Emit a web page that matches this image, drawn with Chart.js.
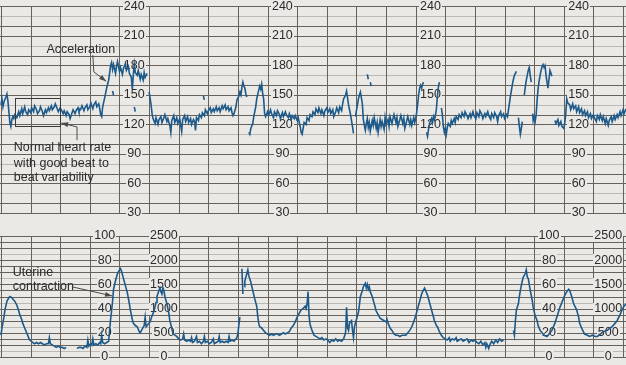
<!DOCTYPE html>
<html>
<head>
<meta charset="utf-8">
<title>Fetal heart rate and uterine contraction trace</title>
<script src="https://cdn.jsdelivr.net/npm/chart.js@4.4.0/dist/chart.umd.min.js"></script>
<style>
html, body { margin: 0; padding: 0; background: #ebe9e6; }
#wrap { width: 626px; height: 365px; }
</style>
</head>
<body>
<div id="wrap"><canvas id="ctg" width="626" height="365"></canvas></div>
<script>
// tick labels
var fhrTicks = [240, 210, 180, 150, 120, 90, 60, 30];      // bpm
var ucTicks = [100, 80, 60, 40, 20, 0];                     // mmHg
var ucTicksAlt = [2500, 2000, 1500, 1000, 500, 0];          // kPa scale printed beside it

// fetal heart rate, [seconds, bpm], null = signal lost
var fhrTrace = [
  [0,140],[1,146],[2,138],[3,143],[5,148],[6,151],[7,144],[8,133],[9,122],[10,118],[11,125],[12,128],[13,126],[14,130],
  [16,127],[18,133],[19,129],[21,136],[22,131],[24,138],[25,133],[27,130],[28,135],[30,132],[31,137],[33,133],[34,139],
  [36,135],[37,131],[39,134],[40,138],[42,133],[43,129],[45,135],[46,132],[48,137],[49,134],[51,139],[52,135],[54,138],
  [55,141],[57,136],[58,133],[60,137],[61,135],[63,131],[64,134],[66,129],[67,133],[69,130],[70,126],[72,132],[73,135],
  [75,131],[76,134],[78,137],[79,133],[81,136],[82,139],[84,134],[85,137],[87,140],[88,135],[90,138],[91,142],[93,136],
  [94,140],[96,143],[97,138],[99,141],[100,136],[101,130],[102,128],[103,138],[105,147],[107,157],[109,165],[110,172],
  [111,180],[112,183],[113,176],[114,181],[116,172],[117,179],[118,184],[120,174],[121,178],[123,171],[124,177],[126,182],
  [127,175],[129,179],[130,172],[132,168],[133,156],[134,170],[135,181],[136,173],[138,170],[139,175],[141,166],[142,171],
  [144,165],[145,173],[146,168],[148,172],[149,null],
  [150,153],[151,147],[152,140],[153,131],[154,126],[156,121],[157,127],[159,120],[160,125],[162,128],[163,122],[165,127],
  [166,130],[168,123],[169,126],[171,119],[172,112],[173,124],[175,129],[176,122],[178,127],[179,121],[181,126],[182,119],
  [183,113],[184,125],[186,129],[187,123],[189,128],[190,122],[192,126],[193,120],[195,125],[196,123],[197,114],[198,127],
  [200,124],[201,130],[203,127],[204,132],[206,129],[207,135],[209,131],[210,134],[212,137],[213,132],[215,136],[216,133],
  [218,138],[219,134],[221,137],[222,133],[224,139],[225,136],[227,140],[228,135],[230,138],[231,134],[233,137],[234,132],
  [235,129],[236,131],[238,138],[239,145],[241,149],[242,153],[243,150],[244,158],[245,163],[246,159],[247,157],[248,151],
  [249,148],[250,null],
  [251,112],[252,110],[253,116],[255,121],[256,128],[258,138],[259,146],[261,155],[262,159],[263,156],[264,161],[265,152],
  [266,146],[267,131],[268,128],[270,133],[271,129],[273,135],[274,131],[276,127],[277,133],[279,129],[280,134],[282,130],
  [283,126],[285,132],[286,128],[288,133],[289,130],[291,127],[292,131],[294,125],[295,129],[297,126],[298,129],[300,124],
  [301,127],[303,118],[304,112],[305,110],[306,116],[307,122],[309,120],[310,127],[312,124],[313,130],[315,128],[316,133],
  [318,130],[319,136],[321,132],[322,137],[324,131],[325,135],[327,129],[328,134],[330,137],[331,132],[333,136],[334,131],
  [336,135],[337,128],[339,133],[340,137],[342,132],[343,138],[345,134],[346,141],[347,146],[349,150],[350,154],[351,147],
  [352,140],[353,135],[354,130],[355,124],[356,118],[357,111],[358,null],
  [359,128],[360,134],[361,140],[362,146],[363,150],[364,153],[365,147],[366,141],[367,125],[368,119],[369,114],[370,121],
  [371,126],[372,117],[373,122],[374,113],[376,124],[377,119],[378,127],[380,116],[381,122],[382,112],[384,125],[385,118],
  [386,123],[388,115],[389,127],[390,120],[392,125],[393,118],[394,128],[396,121],[397,126],[398,130],[400,122],[401,127],
  [402,118],[404,125],[405,129],[407,121],[408,126],[409,116],[411,124],[412,128],[414,120],[415,125],[416,119],[418,127],
  [419,122],[420,126],[421,132],[422,141],[423,150],[424,157],[425,160],[426,157],[427,161],[428,163],[429,null],
  [431,112],[432,108],[433,115],[434,121],[436,126],[437,122],[438,128],[439,125],[440,129],[441,136],[442,149],[443,158],
  [444,163],[445,null],
  [446,137],[447,130],[448,118],[449,112],[450,116],[451,110],[452,117],[453,121],[455,118],[456,124],[457,121],[459,126],
  [460,122],[461,128],[463,125],[464,130],[466,127],[467,132],[469,128],[470,133],[472,129],[473,126],[475,131],[476,127],
  [478,133],[479,129],[481,126],[482,132],[484,128],[485,134],[487,130],[488,126],[490,131],[491,128],[493,133],[494,129],
  [496,125],[497,131],[499,127],[500,132],[502,128],[503,123],[504,129],[506,133],[507,128],[509,131],[510,126],[512,130],
  [513,128],[514,135],[515,142],[516,149],[517,155],[518,161],[519,166],[520,170],[521,172],[522,174],[523,null],
  [524,127],[525,118],[526,110],[527,116],[528,123],[529,null],
  [530,150],[531,158],[532,165],[533,170],[534,175],[535,178],[536,170],[537,163],[538,null],
  [538.5,131],[539,124],[540,128],[541,123],[542,130],[543,145],[544,157],[545,164],[546,170],[547,175],[548,179],[549,181],
  [550,178],[551,180],[552,170],[553,163],[554,157],[555,166],[556,175],[557,172],[558,169],[559,null],
  [561,124],[562,121],[564,125],[565,119],[567,123],[568,118],[570,116],[571,122],[572,131],[573,146],[574,142],[576,140],
  [577,135],[579,141],[580,136],[582,139],[583,133],[585,138],[586,132],[588,136],[589,130],[591,134],[592,129],[594,133],
  [595,127],[597,131],[598,126],[600,130],[601,127],[603,123],[604,129],[606,125],[607,130],[609,124],[610,128],[612,121],
  [613,126],[615,119],[616,124],[618,128],[619,123],[621,129],[622,125],[624,130],[625,127],[627,133],[628,129],[630,135],
  [631,131],[633,136]
];

// isolated short fragments of the heart rate signal
var fhrFragments = [
  [113,154],[114,150],[115,null],[135,138],[136,133],[137,null],[205,149],[206,145],[207,null],
  [371,171],[372,166],[373,null],[374,163],[375,159],[376,null]
];

// uterine pressure, [seconds, mmHg]
var ucTrace = [
  [0,18],[1,24],[3,33],[4,39],[6,46],[8,49],[9,50],[11,49],[12,48],[14,46],[16,43],[18,38],[19,35],[21,31],[22,28],
  [24,24],[26,20],[28,16],[29,14],[31,13],[32,12],[34,11],[36,12],[38,11],[40,12],[42,11],[44,10],[46,11],[48,11],
  [49,16],[50,11],[52,10],[54,9],[56,8],[58,9],[60,8],[62,8],[64,7],[66,8],[67,null],
  [77,7],[79,8],[81,8],[83,7],[85,9],[87,8],[88,14],[89,9],[91,11],[92,10],[93,15],[94,10],[96,11],[98,10],[100,12],
  [101,11],[102,18],[103,12],[105,11],[107,12],[109,13],[110,22],[111,31],[112,38],[113,46],[114,56],[116,63],[118,69],
  [120,72],[121,73],[122,71],[124,65],[126,59],[128,53],[130,44],[131,39],[133,31],[134,28],[136,26],[138,25],[140,21],
  [141,20],[143,23],[145,26],[146,33],[147,25],[149,27],[151,29],[153,34],[155,38],[157,45],[158,50],[160,55],[161,57],
  [162,54],[163,52],[164,57],[165,55],[166,50],[168,44],[170,36],[171,30],[173,24],[174,20],[176,18],[178,17],[180,15],
  [182,14],[184,15],[185,19],[186,14],[188,13],[190,14],[192,13],[193,16],[194,12],[196,13],[198,17],[199,12],[201,13],
  [203,11],[205,13],[206,17],[207,12],[209,13],[211,11],[213,12],[215,15],[216,11],[218,12],[220,13],[221,17],[222,12],
  [224,13],[226,12],[228,13],[230,12],[231,17],[232,13],[234,14],[236,13],[238,15],[239,16],[240,20],[241,27],[242,33],
  [243,null],[244,73],[245,52],[246,null],
  [246.5,58],[247,63],[249,69],[250,72],[251,67],[253,62],[255,55],[257,48],[259,42],[260,34],[261,28],[262,25],[264,24],
  [266,22],[268,20],[270,19],[272,18],[274,19],[276,18],[278,19],[280,19],[282,18],[284,19],[286,20],[288,19],[290,20],
  [292,21],[294,24],[296,26],[298,29],[300,33],[302,36],[304,39],[306,40],[308,42],[309,40],[310,44],[311,54],[312,34],
  [313,27],[315,22],[317,18],[319,17],[321,16],[323,15],[325,16],[327,14],[329,15],[331,14],[333,12],[335,14],[337,13],
  [339,15],[341,13],[343,14],[345,13],[347,15],[349,20],[350,41],[351,24],[352,22],[353,28],[355,30],[356,22],[357,16],
  [358,25],[360,31],[362,37],[363,43],[364,50],[366,55],[367,58],[369,61],[370,57],[371,60],[372,56],[373,58],[374,54],
  [376,50],[378,44],[380,38],[382,35],[384,32],[386,31],[388,30],[390,29],[391,31],[392,28],[394,24],[396,22],[398,19],
  [400,18],[402,18],[404,17],[406,18],[408,18],[410,18],[412,20],[414,22],[416,25],[418,29],[420,34],[422,40],[424,46],
  [426,52],[427,54],[429,57],[430,55],[432,51],[434,45],[436,39],[438,33],[439,30],[441,26],[442,25],[444,21],[446,18],
  [448,16],[450,15],[452,14],[454,16],[455,13],[457,15],[459,14],[461,16],[462,13],[464,14],[466,15],[468,13],[470,14],
  [472,15],[474,12],[476,14],[478,13],[480,14],[482,12],[484,11],[486,13],[488,10],[490,12],[491,8],[492,11],[494,7],
  [495,10],[497,13],[499,11],[501,14],[503,12],[505,15],[507,13],[509,14],[510,null],
  [519,22],[520,18],[521,30],[522,39],[524,44],[525,50],[526,55],[528,63],[529,66],[531,69],[532,72],[533,66],[534,65],
  [536,55],[538,47],[539,41],[541,34],[543,30],[544,26],[546,22],[548,20],[550,18],[553,17],[555,19],[558,22],[561,28],
  [563,33],[566,41],[569,47],[571,51],[573,54],[575,56],[576,55],[578,50],[580,44],[583,39],[585,33],[586,28],[588,24],
  [591,19],[594,18],[596,17],[599,18],[602,17],[604,17],[607,19],[610,21],[614,22],[617,24],[619,25],[622,28],[624,30],
  [627,35],[629,39],[631,42],[633,44]
];

var PAPER = '#ebe9e6';
var GRID_DARK = '#67615c';
var GRID_LIGHT = '#bdb9b5';
var INK = '#2b2b2b';
var TRACE = '#1d5a8a';
var FONT = '12.5px "Liberation Sans", Arial, sans-serif';

// label columns sit between two 30 s lines (seconds)
var fhrLabelCols = [135, 285, 435, 585];
var ucLabelCols = [105, 555];
var ucAltLabelCols = [165, 615];

function toPoints(list) {
  return list.map(function (p) { return { x: p[0], y: p[1] }; });
}

function label(ctx, text, x, y) {
  var w = ctx.measureText(text).width;
  ctx.fillStyle = PAPER;
  ctx.fillRect(Math.round(x - w / 2 - 1), Math.round(y - 6), Math.ceil(w + 2), 12);
  ctx.fillStyle = INK;
  ctx.fillText(text, x, y);
}

function arrow(ctx, pts) {
  ctx.beginPath();
  ctx.moveTo(pts[0][0], pts[0][1]);
  for (var i = 1; i < pts.length; i++) ctx.lineTo(pts[i][0], pts[i][1]);
  ctx.stroke();
  var a = pts[pts.length - 2], b = pts[pts.length - 1];
  var ang = Math.atan2(b[1] - a[1], b[0] - a[0]);
  ctx.beginPath();
  ctx.moveTo(b[0], b[1]);
  ctx.lineTo(b[0] - 7 * Math.cos(ang) + 2.5 * Math.sin(ang), b[1] - 7 * Math.sin(ang) - 2.5 * Math.cos(ang));
  ctx.lineTo(b[0] - 7 * Math.cos(ang) - 2.5 * Math.sin(ang), b[1] - 7 * Math.sin(ang) + 2.5 * Math.cos(ang));
  ctx.closePath();
  ctx.fill();
}

var paperPlugin = {
  id: 'paper',
  beforeDatasetsDraw: function (chart) {
    var ctx = chart.ctx;
    var sx = chart.scales.x, sf = chart.scales.yFhr, su = chart.scales.yUc;
    var W = chart.width;
    ctx.save();
    ctx.fillStyle = PAPER;
    ctx.fillRect(0, 0, W, chart.height);
    ctx.lineWidth = 1;

    // heart rate paper: 10 bpm lines
    for (var b = 30; b <= 240; b += 10) {
      var y = Math.round(sf.getPixelForValue(b)) + 0.5;
      ctx.strokeStyle = ((240 - b) % 30 === 10) ? GRID_LIGHT : GRID_DARK;
      ctx.beginPath(); ctx.moveTo(0, y); ctx.lineTo(W, y); ctx.stroke();
    }
    // contraction paper: 5 mmHg lines
    for (var v = 0; v <= 100; v += 5) {
      var yu = Math.round(su.getPixelForValue(v)) + 0.5;
      ctx.strokeStyle = (v % 20 === 5) ? GRID_LIGHT : GRID_DARK;
      ctx.beginPath(); ctx.moveTo(0, yu); ctx.lineTo(W, yu); ctx.stroke();
    }
    // 30 s lines
    ctx.strokeStyle = GRID_DARK;
    for (var t = 0; t <= 630; t += 30) {
      var x = Math.round(sx.getPixelForValue(t)) + 0.5;
      ctx.beginPath();
      ctx.moveTo(x, sf.getPixelForValue(240)); ctx.lineTo(x, sf.getPixelForValue(30));
      ctx.moveTo(x, su.getPixelForValue(100)); ctx.lineTo(x, su.getPixelForValue(0));
      ctx.stroke();
    }

    ctx.font = FONT;
    ctx.textAlign = 'center';
    ctx.textBaseline = 'middle';
    fhrLabelCols.forEach(function (c) {
      fhrTicks.forEach(function (b) {
        label(ctx, String(b), sx.getPixelForValue(c), sf.getPixelForValue(b));
      });
    });
    ucLabelCols.forEach(function (c) {
      ucTicks.forEach(function (v) {
        label(ctx, String(v), sx.getPixelForValue(c), su.getPixelForValue(v));
      });
    });
    ucAltLabelCols.forEach(function (c) {
      ucTicksAlt.forEach(function (v, i) {
        label(ctx, String(v), sx.getPixelForValue(c), su.getPixelForValue(ucTicks[i]));
      });
    });
    ctx.restore();
  },
  afterDatasetsDraw: function (chart) {
    var ctx = chart.ctx;
    var sx = chart.scales.x, sf = chart.scales.yFhr, su = chart.scales.yUc;
    function F(t, b) { return [sx.getPixelForValue(t), sf.getPixelForValue(b)]; }
    function U(t, v) { return [sx.getPixelForValue(t), su.getPixelForValue(v)]; }
    ctx.save();
    ctx.font = '12.5px "Liberation Sans", Arial, sans-serif';
    ctx.fillStyle = INK;
    ctx.textAlign = 'left';
    ctx.textBaseline = 'middle';

    var p = F(46, 196);
    ctx.fillText('Acceleration', p[0], p[1]);
    ['Normal heart rate', 'with good beat to', 'beat variability'].forEach(function (s, i) {
      var q = F(13, [96.5, 80.5, 66][i]);
      ctx.fillText(s, q[0], q[1]);
    });
    var u1 = U(12, 69.5), u2 = U(12, 58);
    ctx.fillText('Uterine', u1[0], u1[1]);
    ctx.fillText('contraction', u2[0], u2[1]);

    ctx.strokeStyle = '#4a4a4a';
    ctx.fillStyle = '#4a4a4a';
    ctx.lineWidth = 1;
    arrow(ctx, [F(93, 190.5), F(94, 173.5), F(106.5, 164)]);
    arrow(ctx, [F(77, 104), F(77, 117.5), F(61, 121.5)]);
    arrow(ctx, [U(72, 58), U(112.5, 50.5)]);

    var a = F(14.2, 146.6), c = F(59.8, 118.5);
    ctx.strokeStyle = '#3a3a3a';
    ctx.strokeRect(Math.round(a[0]) + 0.5, Math.round(a[1]) + 0.5, Math.round(c[0] - a[0]), Math.round(c[1] - a[1]));
    ctx.restore();
  }
};

var traceStyle = {
  borderColor: TRACE,
  borderWidth: 1.6,
  pointRadius: 0,
  tension: 0,
  spanGaps: false,
  fill: false
};

new Chart(document.getElementById('ctg').getContext('2d'), {
  type: 'line',
  data: {
    datasets: [
      Object.assign({ label: 'Fetal heart rate', data: toPoints(fhrTrace), yAxisID: 'yFhr' }, traceStyle),
      Object.assign({ label: 'FHR fragments', data: toPoints(fhrFragments), yAxisID: 'yFhr' }, traceStyle),
      Object.assign({ label: 'Uterine contraction', data: toPoints(ucTrace), yAxisID: 'yUc' }, traceStyle)
    ]
  },
  options: {
    responsive: false,
    animation: false,
    devicePixelRatio: 1,
    layout: { padding: 0 },
    plugins: { legend: { display: false }, tooltip: { enabled: false } },
    scales: {
      x: { type: 'linear', min: -1, max: 633, display: false },
      // both strips share one canvas: the upper one holds 30-240 bpm, the lower one 0-100 mmHg
      yFhr: { type: 'linear', min: -124.6, max: 246.6, display: false },
      yUc: { type: 'linear', min: -6.6, max: 295, display: false }
    }
  },
  plugins: [paperPlugin]
});
</script>
</body>
</html>
